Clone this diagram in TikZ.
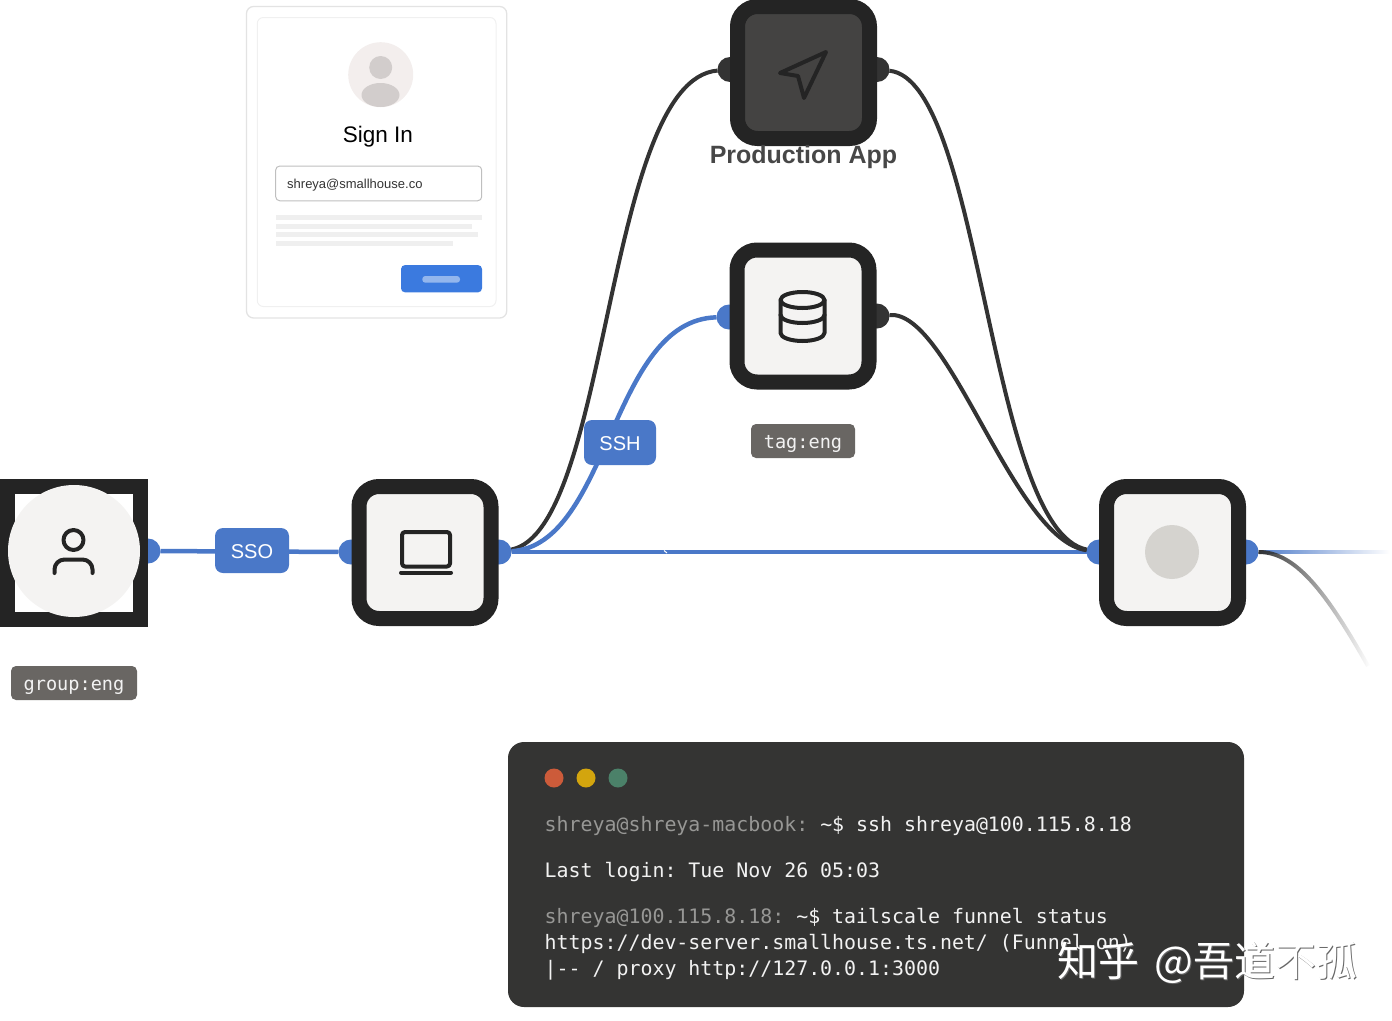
\documentclass[tikz,border=0pt]{standalone}
\usepackage{fontspec}
\setmainfont{Liberation Sans}
\setmonofont{DejaVu Sans Mono}
\newfontfamily\cjkfont{Noto Sans CJK SC}
\usepackage{tikz}
\usetikzlibrary{fadings}
\definecolor{framedark}{HTML}{242424}
\definecolor{wiredark}{HTML}{333333}
\definecolor{linkblue}{HTML}{4A78C8}
\definecolor{panelgray}{HTML}{F4F3F2}
\definecolor{prodgray}{HTML}{444342}
\definecolor{taggray}{HTML}{696663}
\definecolor{termgray}{HTML}{343433}
\definecolor{promptgray}{HTML}{979795}
\definecolor{termwhite}{HTML}{F2F2F2}
\definecolor{barsgray}{HTML}{EFEFEF}
\definecolor{signblue}{HTML}{3B7ADF}
\definecolor{avatarpink}{HTML}{F3EEED}
\definecolor{avatargray}{HTML}{D2CDCC}
\definecolor{enddisc}{HTML}{D5D3CF}
\definecolor{dotred}{HTML}{CC5B3A}
\definecolor{dotyellow}{HTML}{D3A50E}
\definecolor{dotgreen}{HTML}{4B8169}
\tikzfading[name=fadeoff,left color=transparent!0,right color=transparent!100]
\tikzset{
  devbox/.style={draw=framedark,line width=15pt,fill=panelgray,rounded corners=20pt,minimum size=132pt,inner sep=0pt},
  userbox/.style={draw=framedark,line width=15pt,fill=white,minimum size=133pt,inner sep=0pt},
  portblue/.style={circle,fill=linkblue,minimum size=25pt,inner sep=0pt,outer sep=0pt},
  portdark/.style={circle,fill=wiredark,minimum size=25pt,inner sep=0pt,outer sep=0pt},
  linkline/.style={draw=linkblue,line width=4.5pt},
  wireline/.style={draw=wiredark,line width=4pt},
  iconline/.style={draw=framedark,line width=4pt,line cap=round,line join=round},
  bluebadge/.style={fill=linkblue,text=white,rounded corners=8pt,inner sep=0pt,text height=16pt,text depth=1pt,font=\fontsize{20}{24}\selectfont},
  tagbadge/.style={fill=taggray,text=termwhite,rounded corners=5pt,inner sep=0pt,minimum height=34pt,text height=16pt,text depth=2pt,font=\ttfamily\fontsize{18.6}{22}\selectfont},
  termtext/.style={anchor=base west,inner sep=0pt,text=termwhite,font=\ttfamily\fontsize{19.9}{24}\selectfont},
  barline/.style={fill=barsgray},
  markfont/.style={inner sep=0pt,anchor=base west,font=\cjkfont\fontsize{41}{48}\selectfont},
}
\begin{document}
\begin{tikzpicture}[x=1pt,y=-1pt]
  \useasboundingbox (0,0) rectangle (1392,1020);

  \draw[rounded corners=7pt,draw=black!11,line width=1.3pt] (246.5,6.5) rectangle (506.7,318);
  \draw[rounded corners=6pt,draw=black!6,line width=1pt] (257.3,17.5) rectangle (496,306.5);
  \node[circle,fill=avatarpink,minimum size=65pt,inner sep=0pt] (avatar) at (380.7,74.7) {};
  \begin{scope}
    \clip (380.7,74.7) circle (32.5);
    \fill[avatargray] (380.5,95) ellipse [x radius=19,y radius=12];
  \end{scope}
  \fill[avatargray] (380.7,67.5) circle (11.5);
  \node[font=\fontsize{22.5}{28}\selectfont] (signin) at (378,137) {Sign In};
  \node[draw=black!25,line width=1pt,rounded corners=4pt,minimum width=206pt,minimum height=34.7pt,inner sep=0pt] (email) at (378.7,183.4) {};
  \node[anchor=west,inner sep=0pt,text=black!80,font=\fontsize{13}{16}\selectfont] (emailtext) at (287,185) {shreya@smallhouse.co};
  \fill[barline] (275.7,215) rectangle (481.7,219.7);
  \fill[barline] (275.7,223.7) rectangle (471.7,228.7);
  \fill[barline] (275.7,232.3) rectangle (477.7,237.3);
  \fill[barline] (275.7,241.3) rectangle (452.7,246);
  \node[fill=signblue,rounded corners=4pt,minimum width=81pt,minimum height=27.3pt,inner sep=0pt] (signbtn) at (441.5,278.7) {};
  \fill[rounded corners=3pt,fill=signblue!55!white] (422.3,276) rectangle (460,282.7);

  \node[portblue] (user-out) at (148,551) {};
  \node[portblue] (laptop-in) at (351,552) {};
  \node[portblue] (laptop-out) at (499,552) {};
  \node[portdark] (prod-in) at (730,69.5) {};
  \node[portdark] (prod-out) at (877,69.5) {};
  \node[portblue] (db-in) at (729,317) {};
  \node[portdark] (db-out) at (877,316) {};
  \node[portblue] (end-in) at (1099,552) {};
  \node[portblue] (end-out) at (1246,552) {};
  \coordinate (exit-east) at (1392,552);
  \coordinate (exit-south) at (1368,666);

  \draw[linkline] (user-out) -- (laptop-in);
  \draw[linkline] (laptop-out) -- (end-in);
  \draw[draw=white,line width=1pt] (664,550.5) -- (667,553);
  \draw[linkline,path fading=fadeoff,fit fading=false,fading transform={shift={(1322,552)},xscale=2.7}] (end-out) -- (exit-east);
  \draw[wireline,path fading=fadeoff] (end-out) .. controls (1295,552) and (1325,590) .. (exit-south);
  \draw[wireline] (laptop-out) .. controls (610,530) and (605,80) .. (prod-in);
  \draw[wireline] (prod-out) .. controls (982,80) and (988,530) .. (end-in);
  \draw[wireline] (db-out) .. controls (950,310) and (1013,540) .. (end-in);
  \draw[linkline] (laptop-out) .. controls (610,545) and (610,320) .. (db-in);

  \node[userbox] (user) at (74,552.5) {};
  \node[circle,fill=panelgray,minimum size=132pt,inner sep=0pt] (userdisc) at (74,551) {};
  \node[devbox] (laptop) at (425,552.5) {};
  \node[devbox,fill=prodgray] (prod) at (803.5,72.5) {};
  \node[devbox] (db) at (803,316) {};
  \node[devbox] (endhost) at (1172.5,552.5) {};
  \node[circle,fill=enddisc,minimum size=54pt,inner sep=0pt] (enddot) at (1172,552) {};

  \draw[iconline] (73.5,540) circle (10);
  \draw[iconline,rounded corners=10pt] (54.5,573) -- (54.5,559.5) -- (92.5,559.5) -- (92.5,573);
  \draw[iconline,rounded corners=3pt] (402,532) rectangle (450,566.5);
  \draw[iconline] (401,572.5) -- (451,572.5);
  \draw[iconline] (780,73) -- (826,52) -- (804,98) -- (798,76) -- cycle;
  \draw[iconline] (802.5,300) ellipse [x radius=22,y radius=8];
  \draw[iconline] (780.5,300) -- (780.5,333) arc [start angle=180,end angle=0,x radius=22,y radius=8] -- (824.5,300);
  \draw[iconline] (780.5,315) arc [start angle=180,end angle=0,x radius=22,y radius=8];

  \node[bluebadge,minimum width=74pt,minimum height=45pt] (sso) at (252,550.5) {SSO};
  \node[bluebadge,minimum width=72pt,minimum height=45pt] (ssh) at (620,442.5) {SSH};
  \node[tagbadge,minimum width=126pt] (grouptag) at (74,683) {group:eng};
  \node[tagbadge,minimum width=104pt] (dbtag) at (803,441) {tag:eng};
  \node[text=black!72,font=\bfseries\fontsize{25}{30}\selectfont] (prodname) at (803.5,157.5) {Production App};

  \node[fill=termgray,rounded corners=16pt,minimum width=736pt,minimum height=265pt,inner sep=0pt] (terminal) at (876,874.5) {};
  \fill[fill=dotred] (554,778) circle (9.5);
  \fill[fill=dotyellow] (586,778) circle (9.5);
  \fill[fill=dotgreen] (618,778) circle (9.5);
  \node[termtext] (line1) at (544.5,831) {\textcolor{promptgray}{shreya@shreya-macbook:} \textasciitilde\$ ssh shreya@100.115.8.18};
  \node[termtext] (line2) at (544.5,877) {Last login: Tue Nov 26 05:03};
  \node[termtext] (line3) at (544.5,923) {\textcolor{promptgray}{shreya@100.115.8.18:} \textasciitilde\$ tailscale funnel status};
  \node[termtext] (line4) at (544.5,949) {https://dev-server.smallhouse.ts.net/ (Funnel on)};
  \node[termtext] (line5) at (544.5,975) {|-- / proxy http://127.0.0.1:3000};

  \node[markfont,text=black!60] (markshade) at (1058.5,977.5) {知乎 \hspace{6pt}@吾道不孤};
  \node[markfont,text=white] (mark) at (1057,976) {知乎 \hspace{6pt}@吾道不孤};
\end{tikzpicture}
\end{document}
